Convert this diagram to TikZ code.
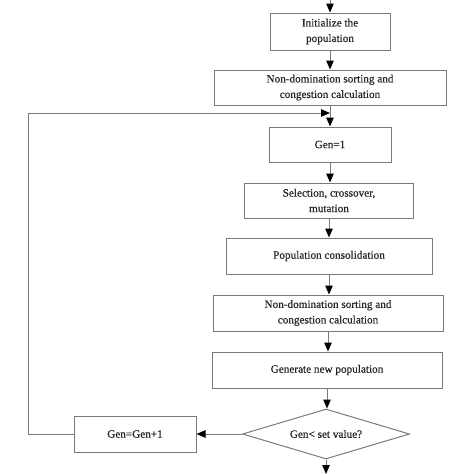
\documentclass[tikz,border=0pt]{standalone}
\usepackage{fontspec}
\setmainfont{Liberation Serif}
\newfontfamily\semib{Liberation Serif}[FakeBold=0.6]
\usetikzlibrary{arrows.meta,shapes.geometric}
\definecolor{edge}{HTML}{7A7A7A}
\definecolor{ink}{HTML}{262626}
\begin{document}
\begin{tikzpicture}[x=1pt,y=-1pt,
  box/.style={draw=edge,line width=1pt,rectangle,inner sep=0pt,align=center,
    text=ink,font=\semib\fontsize{11.2}{15.5}\selectfont},
  dec/.style={draw=edge,line width=1pt,diamond,aspect=3.34,inner sep=0pt,
    text=ink,font=\semib\fontsize{11.2}{15.5}\selectfont},
  flow/.style={draw=edge,line width=1pt,-{Triangle[length=9pt,width=7.5pt,color=black]}}]
\useasboundingbox (0,0) rectangle (474,474);
\node[box,minimum width=120pt,minimum height=37pt] (init) at (330,31.5) {Initialize the\\population};
\node[box,minimum width=232pt,minimum height=35pt] (nds1) at (330,87.5) {Non-domination sorting and\\congestion calculation};
\node[box,minimum width=122pt,minimum height=35pt] (gen1) at (330,144.5) {Gen=1};
\node[box,minimum width=169pt,minimum height=35pt] (sel) at (329,200.5) {Selection, crossover,\\mutation};
\node[box,minimum width=206pt,minimum height=36pt] (cons) at (329,256) {Population consolidation};
\node[box,minimum width=230pt,minimum height=36pt] (nds2) at (328,313) {Non-domination sorting and\\congestion calculation};
\node[box,minimum width=230pt,minimum height=36pt] (newp) at (327,370) {Generate new population};
\node[dec,minimum width=167pt,minimum height=50pt] (dcs) at (326,434) {Gen< set value?};
\node[box,minimum width=122pt,minimum height=36pt] (inc) at (135,434) {Gen=Gen+1};
\coordinate (top) at (330,0);
\coordinate (bot) at (326,474);
\coordinate (join) at (330,113);
\coordinate (lb) at (28,434);
\coordinate (lt) at (28,113);
\draw[flow] (top) -- (init.north);
\draw[flow] (init.south) -- (nds1.north);
\draw[flow] (nds1.south) -- (gen1.north);
\draw[flow] (gen1.south) -- (sel.north -| gen1.south);
\draw[flow] (sel.south) -- (cons.north -| sel.south);
\draw[flow] (cons.south) -- (nds2.north -| cons.south);
\draw[flow] (nds2.south) -- (newp.north -| nds2.south);
\draw[flow] (newp.south) -- (dcs.north -| newp.south);
\draw[flow] (dcs.south) -- (bot);
\draw[flow] (dcs.west) -- (inc.east);
\draw[flow] (inc.west) -- (lb) -- (lt) -- (join);
\end{tikzpicture}
\end{document}
